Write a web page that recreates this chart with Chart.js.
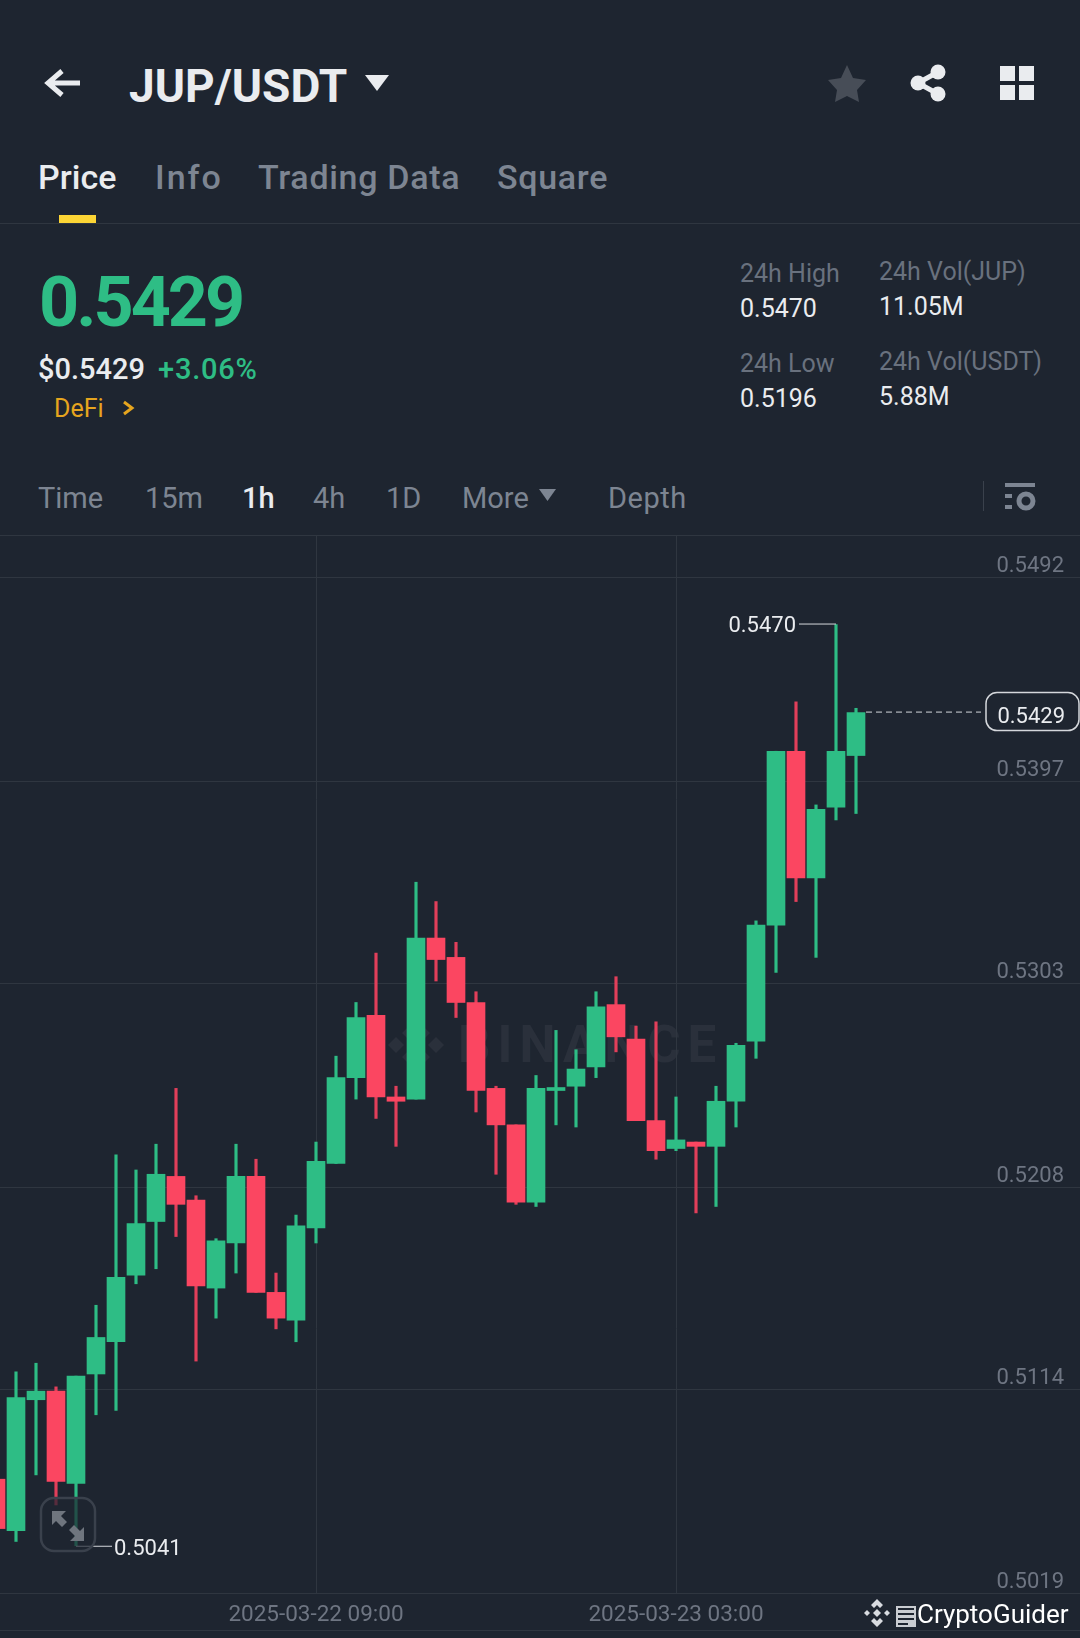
<!DOCTYPE html>
<html>
<head>
<meta charset="utf-8">
<title>JUP/USDT</title>
<script src="https://cdn.jsdelivr.net/npm/chart.js@4"></script>
<style>
html, body { margin: 0; padding: 0; background: #1e2530; }
#page { position: relative; width: 1080px; height: 1638px; overflow: hidden; background: #1e2530; font-family: Roboto, sans-serif; }
#page canvas { position: absolute; left: 0; top: 0; z-index: 2; }
.t { position: absolute; white-space: nowrap; line-height: 1; }
.w { color: #eaecef; }
.g { color: #7d8592; }
.s { color: #69717e; font-size: 25px; }
.v { color: #eaecef; font-size: 25px; }
.tab { font-size: 34px; font-weight: 500; letter-spacing: 0.7px; }
.line { position: absolute; left: 0; width: 1080px; height: 1px; background: #2f3640; }
svg { position: absolute; overflow: visible; }
.over { z-index: 3; }
</style>
</head>
<body>
<div id="page">
  <!-- top bar -->
  <svg style="left:0;top:0" width="1080" height="540">
    <path d="M80 83H50M62 71L48 83L62 95" fill="none" stroke="#eaecef" stroke-width="5"/>
    <path d="M365 75H389L377 91Z" fill="#eaecef"/>
    <path d="M847 65L853 78L866 80L857 90L859 102L847 96L835 102L837 90L828 80L841 78Z" fill="#474d57"/>
    <path d="M938 72L918 83L938 94" fill="none" stroke="#eaecef" stroke-width="5"/>
    <circle cx="938" cy="72" r="7.5" fill="#eaecef"/><circle cx="918" cy="83" r="7.5" fill="#eaecef"/><circle cx="938" cy="94" r="7.5" fill="#eaecef"/>
    <path d="M1000 66h15v15h-15zM1019 66h15v15h-15zM1000 85h15v15h-15zM1019 85h15v15h-15z" fill="#eaecef"/>
    <rect x="59" y="215" width="37" height="8" fill="#fcd535"/>
    <path d="M124 402L132 408L124 414" fill="none" stroke="#e6a51e" stroke-width="3"/>
    <path d="M539 489H556L547.500 501Z" fill="#7d8592"/>
    <rect x="983" y="481" width="1" height="30" fill="#3a414c"/>
    <path d="M1005 483h30v4h-30zM1005 494h7v4h-7zM1005 505h7v4h-7z" fill="#7d8592"/>
    <circle cx="1026" cy="501" r="7" fill="none" stroke="#7d8592" stroke-width="5"/>
  </svg>
  <div class="line" style="top:223px"></div>
  <div class="line" style="top:535px"></div>
  <div class="line" style="top:1630px"></div>

  <span class="t w" style="left:129px;top:63px;font-size:46px;font-weight:700">JUP/USDT</span>
  <span class="t w tab" style="left:38px;top:160px;letter-spacing:0">Price</span>
  <span class="t g tab" style="left:155px;top:160px;letter-spacing:2px">Info</span>
  <span class="t g tab" style="left:258px;top:160px">Trading Data</span>
  <span class="t g tab" style="left:497px;top:160px">Square</span>

  <span class="t" style="left:39px;top:267px;font-size:70px;font-weight:700;color:#2ebd85;letter-spacing:-3px">0.5429</span>
  <span class="t w" style="left:38px;top:355px;font-size:29px;font-weight:500">$0.5429</span>
  <span class="t" style="left:158px;top:355px;font-size:29px;font-weight:500;color:#2ebd85;letter-spacing:0.8px">+3.06%</span>
  <span class="t" style="left:54px;top:396px;font-size:25px;color:#e6a51e">DeFi</span>

  <span class="t s" style="left:740px;top:261px">24h High</span>
  <span class="t v" style="left:740px;top:296px">0.5470</span>
  <span class="t s" style="left:740px;top:351px">24h Low</span>
  <span class="t v" style="left:740px;top:386px">0.5196</span>
  <span class="t s" style="left:879px;top:259px">24h Vol(JUP)</span>
  <span class="t v" style="left:879px;top:294px">11.05M</span>
  <span class="t s" style="left:879px;top:349px">24h Vol(USDT)</span>
  <span class="t v" style="left:879px;top:384px">5.88M</span>

  <span class="t g" style="left:38px;top:484px;font-size:29px">Time</span>
  <span class="t g" style="left:145px;top:484px;font-size:29px">15m</span>
  <span class="t w" style="left:242px;top:484px;font-size:29px;font-weight:500">1h</span>
  <span class="t g" style="left:313px;top:484px;font-size:29px">4h</span>
  <span class="t g" style="left:386px;top:484px;font-size:29px">1D</span>
  <span class="t g" style="left:462px;top:484px;font-size:29px">More</span>
  <span class="t g" style="left:608px;top:484px;font-size:29px;letter-spacing:0.5px">Depth</span>

  <!-- BINANCE watermark sits under the transparent canvas -->
  <svg style="left:0;top:0;z-index:1" width="1080" height="1638">
    <g fill="#2a303b">
      <path d="M416 1019L430 1033L424 1039L416 1031L408 1039L402 1033Z"/>
      <path d="M416 1071L430 1057L424 1051L416 1059L408 1051L402 1057Z"/>
      <path d="M416 1037L424 1045L416 1053L408 1045Z"/>
      <path d="M396 1037L404 1045L396 1053L388 1045Z"/>
      <path d="M436 1037L444 1045L436 1053L428 1045Z"/>
    </g>
    <text x="458" y="1062" font-family="Roboto" font-weight="700" font-size="51" letter-spacing="7" fill="#2a303b">BINANCE</text>
  </svg>

  <canvas id="kline" width="1080" height="1638"></canvas>

  <!-- expand button over the chart -->
  <svg class="over" style="left:0;top:0" width="1080" height="1638">
    <rect x="41" y="1498" width="54" height="53" rx="13" fill="rgba(30,37,48,0.7)" stroke="#3a414c" stroke-width="2.500"/>
    <path d="M52 1511H66L61 1516L67 1522L62 1527L56 1521L52 1525ZM84 1541H70L75 1536L69 1530L74 1525L80 1531L84 1527Z" fill="#6f757e"/>
    <g fill="#d8dbe0">
      <path d="M877 1599L883 1605L880 1608L877 1605L874 1608L871 1605Z"/>
      <path d="M877 1627L883 1621L880 1618L877 1621L874 1618L871 1621Z"/>
      <path d="M877 1609L881 1613L877 1617L873 1613Z"/>
      <path d="M867 1610L870 1613L867 1616L864 1613Z"/>
      <path d="M887 1610L890 1613L887 1616L884 1613Z"/>
    </g>
    <rect x="896" y="1606" width="20" height="21" fill="#c9ccd1"/>
    <path d="M898 1609h16M898 1614h16M898 1619h16M898 1624h10" stroke="#1e2530" stroke-width="2"/>
  </svg>
  <span class="t over" style="left:917px;top:1601px;font-size:26px;color:#fff;z-index:3">CryptoGuider</span>
</div>

<script>
// 1h candles, oldest first (first one is mostly off screen)
const opens  = [0.5072,0.5048,0.5109,0.5113,0.5070,0.5121,0.5136,0.5167,0.5192,0.5213,0.5202,0.5161,0.5182,0.5213,0.5159,0.5146,0.5189,0.5219,0.5259,0.5288,0.5250,0.5249,0.5324,0.5315,0.5294,0.5254,0.5237,0.5201,0.5253,0.5255,0.5264,0.5293,0.5277,0.5239,0.5226,0.5229,0.5227,0.5248,0.5276,0.5330,0.5411,0.5352,0.5385,0.5409];
const closes = [0.5049,0.5110,0.5113,0.5071,0.5120,0.5138,0.5166,0.5191,0.5214,0.5200,0.5162,0.5183,0.5213,0.5159,0.5147,0.5190,0.5220,0.5259,0.5287,0.5250,0.5248,0.5324,0.5314,0.5294,0.5253,0.5237,0.5201,0.5254,0.5254,0.5263,0.5292,0.5278,0.5239,0.5225,0.5230,0.5227,0.5248,0.5274,0.5330,0.5411,0.5352,0.5384,0.5411,0.5429];
const highs  = [0.5075,0.5122,0.5126,0.5115,0.5120,0.5153,0.5223,0.5216,0.5228,0.5254,0.5204,0.5184,0.5228,0.5221,0.5168,0.5195,0.5229,0.5269,0.5294,0.5317,0.5255,0.5350,0.5341,0.5322,0.5299,0.5255,0.5237,0.5260,0.5281,0.5272,0.5299,0.5306,0.5283,0.5285,0.5250,0.5229,0.5255,0.5275,0.5332,0.5411,0.5434,0.5386,0.5470,0.5431];
const lows   = [0.5043,0.5043,0.5074,0.5060,0.5041,0.5102,0.5104,0.5163,0.5170,0.5185,0.5127,0.5147,0.5168,0.5159,0.5142,0.5136,0.5182,0.5219,0.5249,0.5240,0.5227,0.5249,0.5304,0.5287,0.5243,0.5214,0.5200,0.5199,0.5237,0.5236,0.5259,0.5271,0.5239,0.5221,0.5225,0.5196,0.5199,0.5236,0.5268,0.5308,0.5341,0.5315,0.5379,0.5382];

const yTicks = [0.5492, 0.5397, 0.5303, 0.5208, 0.5114, 0.5019];
const xTickIdx = [16, 34];
const xTickLabels = ['2025-03-22 09:00', '2025-03-23 03:00'];

const highMark = 0.5470;
const lowMark = 0.5041;
const lastPrice = 0.5429;

const green = '#2ebd85';
const red = '#fb4661';
const redWick = '#e23f5a';
const gridColor = '#2f3640';
const tickColor = '#6e7582';

const idx = opens.map((_, i) => i);
const up = opens.map((o, i) => closes[i] >= o);

// price marks drawn on top of the candles, positions come from the scales
const marks = {
    id: 'marks',
    afterDatasetsDraw(chart) {
        const { ctx, scales: { x, y } } = chart;
        ctx.save();
        ctx.font = '22px Roboto';
        ctx.textBaseline = 'middle';
        ctx.fillStyle = '#eaecef';
        ctx.strokeStyle = '#d5d8dc';
        ctx.lineWidth = 1;

        // 24h high
        const hi = highs.indexOf(highMark);
        const hx = x.getPixelForValue(hi);
        const hy = y.getPixelForValue(highMark);
        ctx.beginPath();
        ctx.moveTo(hx, hy - 0.5);
        ctx.lineTo(hx - 37, hy - 0.5);
        ctx.stroke();
        ctx.textAlign = 'right';
        ctx.fillText(highMark.toFixed(4), hx - 40, hy + 2);

        // 24h low
        const li = lows.indexOf(lowMark);
        const lx = x.getPixelForValue(li);
        const ly = y.getPixelForValue(lowMark);
        ctx.beginPath();
        ctx.moveTo(lx, ly + 0.5);
        ctx.lineTo(lx + 36, ly + 0.5);
        ctx.stroke();
        ctx.textAlign = 'left';
        ctx.fillText(lowMark.toFixed(4), lx + 38, ly + 4);

        // last price line and box
        const px = x.getPixelForValue(opens.length - 1) + 10;
        const py = y.getPixelForValue(lastPrice);
        ctx.setLineDash([6, 4]);
        ctx.beginPath();
        ctx.moveTo(px, py - 0.5);
        ctx.lineTo(981, py - 0.5);
        ctx.stroke();
        ctx.setLineDash([]);
        ctx.beginPath();
        ctx.roundRect(986, py - 20, 93, 38, 11);
        ctx.fillStyle = '#1e2530';
        ctx.fill();
        ctx.lineWidth = 1.5;
        ctx.stroke();
        ctx.fillStyle = '#eaecef';
        ctx.textAlign = 'right';
        ctx.fillText(lastPrice.toFixed(4), 1065, py + 5);
        ctx.restore();
    }
};

new Chart(document.getElementById('kline'), {
    type: 'bar',
    data: {
        datasets: [
            {
                label: 'body',
                data: idx.map(i => ({ x: i, y: [opens[i], closes[i]] })),
                backgroundColor: up.map(u => u ? green : red),
                barThickness: 18,
                minBarLength: 3,
                grouped: false,
                order: 1
            },
            {
                label: 'wick',
                data: idx.map(i => ({ x: i, y: [lows[i], highs[i]] })),
                backgroundColor: up.map(u => u ? green : redWick),
                barThickness: 2.5,
                grouped: false,
                order: 2
            }
        ]
    },
    plugins: [marks],
    options: {
        responsive: false,
        animation: false,
        layout: { padding: { top: 535, left: 0, right: 0, bottom: 0 } },
        plugins: { legend: { display: false }, tooltip: { enabled: false } },
        scales: {
            x: {
                type: 'linear',
                offset: false,
                min: 0.2,
                max: 54.2,
                afterBuildTicks: s => { s.ticks = xTickIdx.map(v => ({ value: v })); },
                afterFit: s => { s.height = 45; },
                grid: { color: gridColor, lineWidth: 1, drawTicks: false, offset: false },
                border: { color: gridColor },
                ticks: {
                    autoSkip: false,
                    maxRotation: 0,
                    padding: 9,
                    color: tickColor,
                    font: { family: 'Roboto', size: 22.5 },
                    callback: v => xTickLabels[xTickIdx.indexOf(v)]
                }
            },
            y: {
                position: 'right',
                min: 0.5019,
                max: 0.55117,
                afterBuildTicks: s => { s.ticks = yTicks.map(v => ({ value: v })); },
                afterFit: s => { s.width = 0; },
                grid: { color: gridColor, lineWidth: 1, drawTicks: false },
                border: { display: false },
                ticks: {
                    mirror: true,
                    autoSkip: false,
                    padding: -16,
                    labelOffset: -11,
                    color: tickColor,
                    font: { family: 'Roboto', size: 22 },
                    callback: v => v.toFixed(4)
                }
            }
        }
    }
});
</script>
</body>
</html>
